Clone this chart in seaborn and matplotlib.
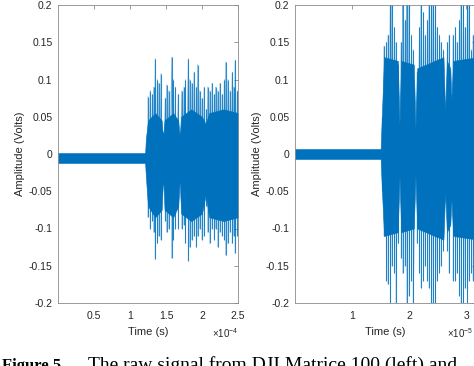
import numpy as np
import matplotlib
matplotlib.use("Agg")
import matplotlib.pyplot as plt
import seaborn as sns
from matplotlib.ticker import FuncFormatter

# -----------------------------
# Data (time in units of the axis multiplier)
# -----------------------------

# left panel, DJI Matrice 100, time x 1e-4 s
left_scale = 1e-4
left_base_t = [0.0, 1.22]
left_base_hi = [0.001, 0.001]
left_base_lo = [-0.012, -0.012]

left_core_t = [1.21, 1.22, 1.25, 1.35, 1.44, 1.46, 1.48, 1.60, 1.67, 1.69, 1.71,
               1.85, 2.00, 2.05, 2.10, 2.30, 2.50]
left_core_hi = [0.001, 0.02, 0.045, 0.055, 0.045, 0.02, 0.045, 0.055, 0.045, 0.022, 0.05,
                0.06, 0.05, 0.04, 0.055, 0.06, 0.055]
left_core_lo = [-0.012, -0.03, -0.07, -0.085, -0.075, -0.03, -0.075, -0.085, -0.07, -0.035, -0.08,
                -0.09, -0.08, -0.055, -0.085, -0.09, -0.085]

left_peak_t = [1.25, 1.28, 1.31, 1.33, 1.35, 1.38, 1.40, 1.43, 1.46, 1.49, 1.51, 1.54,
               1.58, 1.60, 1.63, 1.67, 1.69, 1.72, 1.75, 1.77, 1.81, 1.83, 1.86, 1.89,
               1.92, 1.94, 1.97, 2.00, 2.03, 2.06, 2.08, 2.11, 2.14, 2.17, 2.19, 2.22,
               2.25, 2.28, 2.31, 2.33, 2.36, 2.39, 2.42, 2.44, 2.46, 2.49]
left_peak_hi = [0.077, 0.085, 0.08, 0.09, 0.128, 0.10, 0.095, 0.108, 0.03, 0.075, 0.093, 0.085,
                0.13, 0.10, 0.09, 0.08, 0.03, 0.085, 0.09, 0.10, 0.128, 0.10, 0.095, 0.11,
                0.09, 0.12, 0.085, 0.075, 0.09, 0.06, 0.09, 0.085, 0.095, 0.08, 0.09, 0.085,
                0.095, 0.08, 0.10, 0.123, 0.10, 0.085, 0.11, 0.09, 0.126, 0.085]
left_peak_lo = [-0.085, -0.10, -0.09, -0.105, -0.141, -0.12, -0.11, -0.115, -0.04, -0.09, -0.105, -0.10,
                -0.14, -0.115, -0.10, -0.10, -0.04, -0.10, -0.095, -0.12, -0.143, -0.125, -0.115, -0.11,
                -0.125, -0.11, -0.10, -0.115, -0.11, -0.07, -0.105, -0.12, -0.10, -0.115, -0.10, -0.125,
                -0.105, -0.11, -0.115, -0.136, -0.12, -0.105, -0.12, -0.11, -0.133, -0.11]

# right panel, time x 1e-5 s
right_scale = 1e-5
right_base_t = [0.0, 1.51]
right_base_hi = [0.007, 0.007]
right_base_lo = [-0.007, -0.007]

right_core_t = [1.50, 1.52, 1.56, 1.80, 1.83, 1.86, 2.08, 2.11, 2.14, 2.60, 2.63, 2.66,
                2.72, 2.74, 2.77, 3.20]
right_core_hi = [0.007, 0.05, 0.13, 0.125, 0.04, 0.125, 0.12, 0.035, 0.115, 0.13, 0.055, 0.125,
                 0.115, 0.07, 0.125, 0.13]
right_core_lo = [-0.007, -0.045, -0.11, -0.105, -0.03, -0.105, -0.10, -0.03, -0.10, -0.115, -0.05, -0.105,
                 -0.095, -0.06, -0.11, -0.115]

right_peak_t = [1.53, 1.56, 1.60, 1.63, 1.67, 1.70, 1.74, 1.77, 1.81, 1.83, 1.86, 1.89,
                1.93, 1.96, 2.00, 2.04, 2.07, 2.11, 2.14, 2.18, 2.21, 2.25, 2.28, 2.32,
                2.35, 2.39, 2.42, 2.46, 2.49, 2.53, 2.56, 2.60, 2.63, 2.67, 2.70, 2.74,
                2.77, 2.81, 2.84, 2.88, 2.91, 2.95, 2.98, 3.02, 3.05, 3.09, 3.12, 3.16]
right_peak_hi = [0.05, 0.145, 0.15, 0.16, 0.22, 0.22, 0.17, 0.15, 0.12, 0.04, 0.15, 0.22,
                 0.18, 0.22, 0.22, 0.16, 0.14, 0.035, 0.11, 0.17, 0.22, 0.19, 0.16, 0.18,
                 0.21, 0.22, 0.22, 0.22, 0.17, 0.16, 0.15, 0.14, 0.06, 0.15, 0.16, 0.08,
                 0.16, 0.17, 0.15, 0.18, 0.22, 0.22, 0.17, 0.22, 0.22, 0.14, 0.16, 0.15]
right_peak_lo = [-0.05, -0.11, -0.17, -0.175, -0.22, -0.15, -0.16, -0.22, -0.12, -0.03, -0.14, -0.16,
                 -0.15, -0.22, -0.19, -0.17, -0.22, -0.03, -0.12, -0.16, -0.18, -0.17, -0.15, -0.17,
                 -0.18, -0.22, -0.22, -0.22, -0.17, -0.16, -0.15, -0.13, -0.055, -0.13, -0.16, -0.065,
                 -0.17, -0.17, -0.16, -0.19, -0.22, -0.22, -0.18, -0.22, -0.17, -0.16, -0.17, -0.15]

left_xticks = [0.5, 1, 1.5, 2, 2.5]
right_xticks = [1, 2, 3]
yticks = [-0.2, -0.15, -0.1, -0.05, 0, 0.05, 0.1, 0.15, 0.2]
caption_label = "Figure 5."
caption = "The raw signal from DJI Matrice 100 (left) and"

# -----------------------------
# Style
# -----------------------------
sns.set_theme(style="white")
plt.rcParams["font.family"] = ["Liberation Sans", "DejaVu Sans"]
plt.rcParams["axes.unicode_minus"] = False
plt.rcParams["mathtext.fontset"] = "custom"
plt.rcParams["mathtext.rm"] = "Liberation Sans"
plt.rcParams["mathtext.it"] = "Liberation Sans"

blue = "#0072BD"
spine_col = "#8a8a8a"
text_col = "#262626"

fig = plt.figure(figsize=(4.74, 3.66), dpi=100)
ax_l = fig.add_axes([58 / 474, 63 / 366, 180 / 474, 298 / 366])
ax_r = fig.add_axes([295 / 474, 63 / 366, 181 / 474, 298 / 366])


def draw_signal(ax, scale, base_t, base_hi, base_lo, core_t, core_hi, core_lo,
                peak_t, peak_hi, peak_lo, xmax, xticks, power, off_x):
    bt = np.array(base_t) * scale
    ct = np.array(core_t) * scale
    pt = np.array(peak_t) * scale
    ax.fill_between(bt, base_lo, base_hi, color=blue, lw=0.4, edgecolor=blue)
    ax.fill_between(ct, core_lo, core_hi, color=blue, lw=0.4, edgecolor=blue)
    ax.vlines(pt, peak_lo, peak_hi, color=blue, lw=0.8, alpha=0.8)
    # thin crest line joining the peaks gives the spiky envelope texture
    sns.lineplot(x=np.repeat(pt, 2), y=np.ravel(np.column_stack([peak_hi, peak_lo])),
                 ax=ax, color=blue, lw=0.5, alpha=0.55, sort=False, estimator=None)

    ax.set_xlim(0, xmax * scale)
    ax.set_ylim(-0.2, 0.2)
    ax.set_xticks(np.array(xticks) * scale)
    ax.xaxis.set_major_formatter(FuncFormatter(lambda v, p: f"{v / scale:g}"))
    ax.set_yticks(yticks)
    ax.yaxis.set_major_formatter(FuncFormatter(lambda v, p: f"{v:g}"))
    ax.tick_params(direction="in", top=True, right=True, length=3, width=0.6,
                   color=spine_col, labelsize=7.5, labelcolor=text_col)
    ax.tick_params(axis="x", pad=6)
    ax.tick_params(axis="y", pad=4)
    for s in ax.spines.values():
        s.set_color(spine_col)
        s.set_linewidth(0.6)
    ax.set_xlabel("Time (s)", fontsize=8, color=text_col, labelpad=4)
    ax.set_ylabel("Amplitude (Volts)", fontsize=8, color=text_col, labelpad=3)
    ax.annotate(r"$\times10^{-%d}$" % power, xy=(1, 0), xycoords="axes fraction",
                xytext=(off_x, -25), textcoords="offset points", ha="right", va="baseline",
                fontsize=7, color=text_col)


draw_signal(ax_l, left_scale, left_base_t, left_base_hi, left_base_lo,
            left_core_t, left_core_hi, left_core_lo,
            left_peak_t, left_peak_hi, left_peak_lo, 2.5, left_xticks, 4, 0)
draw_signal(ax_r, right_scale, right_base_t, right_base_hi, right_base_lo,
            right_core_t, right_core_hi, right_core_lo,
            right_peak_t, right_peak_hi, right_peak_lo, 3.17, right_xticks, 5, -2)

# caption runs off the bottom edge in the reference
fig.text(2 / 474, -4 / 366, caption_label, fontsize=12, fontweight="bold",
         family="Liberation Serif", ha="left", va="baseline", color="black")
fig.text(88 / 474, -4 / 366, caption, fontsize=14,
         family="Liberation Serif", ha="left", va="baseline", color="black")

fig.savefig("out.png", dpi=100)
